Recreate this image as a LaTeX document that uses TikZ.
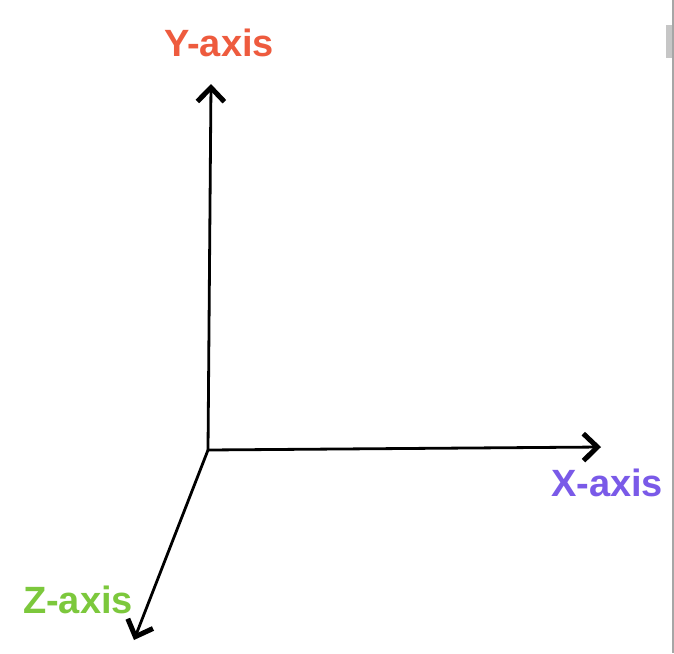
\documentclass[tikz,border=0pt]{standalone}
\usepackage{fontspec}
\setmainfont{Liberation Sans}
\usetikzlibrary{arrows.meta}
\definecolor{ycol}{HTML}{EE5B3E}
\definecolor{xcol}{HTML}{7A5AE8}
\definecolor{zcol}{HTML}{7CC83C}
\begin{document}
\begin{tikzpicture}[x=1pt,y=-1pt,
  axis/.style={line width=2.8pt,-{Straight Barb[length=14pt,width=27pt,line width=5pt]}},
  lbl/.style={font=\fontsize{38}{42}\selectfont\bfseries,inner sep=0pt,anchor=base}]
\useasboundingbox (0,0) rectangle (674,653);
\fill[white] (0,0) rectangle (674,653);
\fill[gray!45] (666,25) rectangle (672,58);
\draw[gray!70,line width=1.5pt] (673,0) -- (673,653);
\coordinate (O) at (208,450);
\coordinate (Ye) at (211,84);
\coordinate (Xe) at (601,447);
\coordinate (Ze) at (134,640);
\draw[axis] (O) -- (Ye);
\draw[axis] (O) -- (Xe);
\draw[axis] (O) -- (Ze);
\node[lbl,text=ycol] (ly) at (219,56) {Y-axis};
\node[lbl,text=xcol] (lx) at (607,496) {X-axis};
\node[lbl,text=zcol] (lz) at (78,613) {Z-axis};
\end{tikzpicture}
\end{document}
